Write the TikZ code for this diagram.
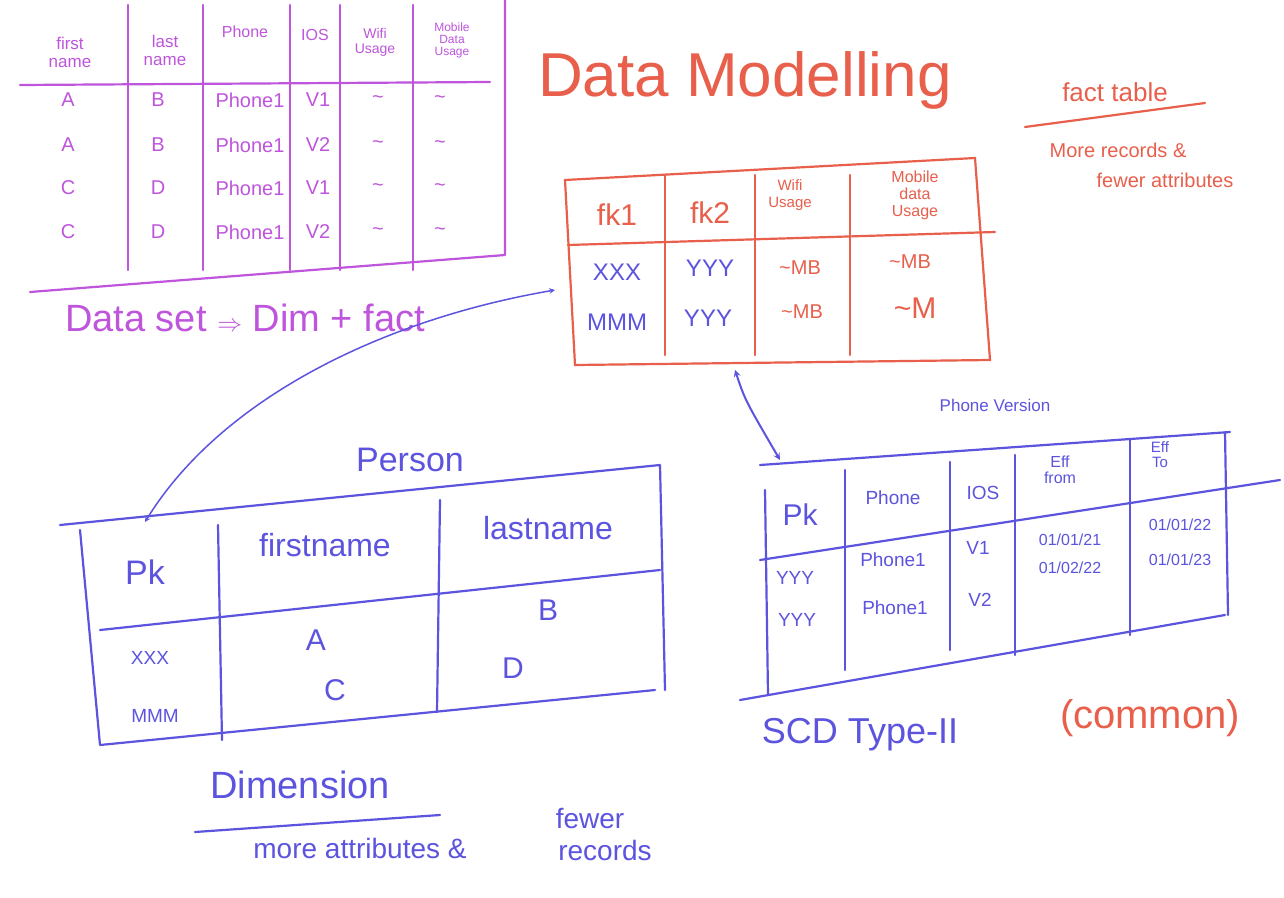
\documentclass[tikz,border=0pt]{standalone}
\usepackage{fontspec}
\setmainfont{Liberation Sans}
\definecolor{pur}{RGB}{190,85,220}
\definecolor{redo}{RGB}{232,95,75}
\definecolor{blu}{RGB}{92,84,222}
\begin{document}
\begin{tikzpicture}[x=1pt,y=-1pt,
  pl/.style={pur,line width=2.2pt,line cap=round},
  rl/.style={redo,line width=2.2pt,line cap=round},
  bl/.style={blu,line width=2.2pt,line cap=round},
  pt/.style={pur,font=\fontsize{20}{21}\selectfont,align=center},
  rt/.style={redo,font=\fontsize{20}{22}\selectfont,align=center},
  bt/.style={blu,font=\fontsize{24}{26}\selectfont,align=center},
  bts/.style={blu,font=\fontsize{19}{20}\selectfont,align=center}]
\useasboundingbox[fill=white] (0,0) rectangle (1284,897);
% purple table
\draw[pl] (505,0) -- (505,255) (30,292) -- (505,255) (20,85) -- (490,82);
\foreach \x in {128,203,290,340,413} \draw[pl] (\x,5) -- (\x,270);
\node[pt,font=\fontsize{17}{18}\selectfont] (h1) at (70,52) {first\\name};
\node[pt,font=\fontsize{17}{18}\selectfont] (h2) at (165,50) {last\\name};
\node[pt,font=\fontsize{16}{17}\selectfont] (h3) at (245,32) {Phone};
\node[pt,font=\fontsize{16}{17}\selectfont] (h4) at (315,35) {IOS};
\node[pt,font=\fontsize{14}{15}\selectfont] (h5) at (375,42) {Wifi\\Usage};
\node[pt,font=\fontsize{12}{12}\selectfont] (h6) at (452,40) {Mobile\\Data\\Usage};
\foreach \y/\a/\b/\v [count=\i] in {100/A/B/V1,145/A/B/V2,188/C/D/V1,232/C/D/V2}{
  \node[pt] (pa\i) at (68,\y) {\a};
  \node[pt] (pb\i) at (158,\y) {\b};
  \node[pt] (pc\i) at (250,\y) {Phone1};
  \node[pt] (pd\i) at (318,\y) {\v};
  \node[pt] (pe\i) at (378,\y) {\textasciitilde};
  \node[pt] (pf\i) at (440,\y) {\textasciitilde};
}
\node[pur,font=\fontsize{38}{40}\selectfont] (ds) at (245,318) {Data set $\Rightarrow$ Dim + fact};
% title
\node[redo,font=\fontsize{62}{64}\selectfont] (title) at (745,80) {Data Modelling};
\node[rt,font=\fontsize{26}{28}\selectfont] (ft) at (1115,92) {fact table};
\draw[rl] (1025,127) -- (1205,103);
\node[rt] (mr) at (1118,150) {More records \&};
\node[rt] (fa) at (1165,180) {fewer attributes};
% fact table
\draw[rl] (565,180) -- (975,158) -- (990,360) -- (575,365) -- cycle;
\draw[rl] (568,245) -- (995,232);
\foreach \x in {665,755,850} \draw[rl] (\x,175) -- (\x,355);
\node[rt,font=\fontsize{30}{32}\selectfont] (fk1) at (617,215) {fk1};
\node[rt,font=\fontsize{30}{32}\selectfont] (fk2) at (710,213) {fk2};
\node[rt,font=\fontsize{15}{17}\selectfont] (wu) at (790,195) {Wifi\\Usage};
\node[rt,font=\fontsize{16}{17}\selectfont] (mu) at (915,195) {Mobile\\data\\Usage};
\node[bt] (x1) at (617,272) {XXX};
\node[bt] (y1) at (710,268) {YYY};
\node[rt] (m1) at (800,268) {\textasciitilde MB};
\node[rt] (m2) at (910,262) {\textasciitilde MB};
\node[bt] (x2) at (617,322) {MMM};
\node[bt] (y2) at (708,318) {YYY};
\node[rt] (m3) at (802,312) {\textasciitilde MB};
\node[rt,font=\fontsize{30}{32}\selectfont] (m4) at (915,308) {\textasciitilde M};
% person table
\node[bt,font=\fontsize{34}{36}\selectfont] (pers) at (410,460) {Person};
\draw[bl] (60,525) -- (660,465) (660,465) -- (665,690) (100,745) -- (655,690) (80,530) -- (100,745) (100,630) -- (660,570);
\draw[bl] (218,525) -- (222,740) (440,500) -- (437,712);
\node[bt,font=\fontsize{34}{36}\selectfont] (pk) at (145,572) {Pk};
\node[bt,font=\fontsize{32}{34}\selectfont] (fn) at (325,545) {firstname};
\node[bt,font=\fontsize{32}{34}\selectfont] (ln) at (548,528) {lastname};
\node[bts] (px) at (150,658) {XXX};
\node[bts] (pm) at (155,716) {MMM};
\node[bt,font=\fontsize{30}{32}\selectfont] (pA) at (316,640) {A};
\node[bt,font=\fontsize{30}{32}\selectfont] (pC) at (335,690) {C};
\node[bt,font=\fontsize{30}{32}\selectfont] (pB) at (548,610) {B};
\node[bt,font=\fontsize{30}{32}\selectfont] (pD) at (513,668) {D};
\coordinate (ca) at (555,290);
\coordinate (cb) at (145,522);
\draw[blu,line width=1.5pt,<->,>=stealth] (ca) .. controls (380,320) and (220,400) .. (cb);
% phone version
\node[bts,font=\fontsize{17}{18}\selectfont] (pvt) at (995,405) {Phone Version};
\draw[bl] (760,465) -- (1230,432) (765,490) -- (768,695) (740,700) -- (1225,615) (1225,432) -- (1228,615) (760,560) -- (1280,480);
\foreach \x/\a/\b in {845/470/670,950/462/650,1015/455/655,1130/440/635} \draw[bl] (\x,\a) -- (\x,\b);
\node[bt,font=\fontsize{30}{32}\selectfont] (vpk) at (800,515) {Pk};
\node[bts] (vph) at (893,498) {Phone};
\node[bts] (vio) at (983,493) {IOS};
\node[bts,font=\fontsize{16}{16}\selectfont] (vef) at (1060,470) {Eff\\from};
\node[bts,font=\fontsize{15}{15}\selectfont] (vet) at (1160,455) {Eff\\To};
\node[bts] (vy1) at (795,578) {YYY};
\node[bts] (vy2) at (797,620) {YYY};
\node[bts] (vp1) at (893,560) {Phone1};
\node[bts] (vp2) at (895,608) {Phone1};
\node[bts] (vv1) at (978,548) {V1};
\node[bts] (vv2) at (980,600) {V2};
\node[bts,font=\fontsize{16}{17}\selectfont] (vd1) at (1070,540) {01/01/21};
\node[bts,font=\fontsize{16}{17}\selectfont] (vd2) at (1070,568) {01/02/22};
\node[bts,font=\fontsize{16}{17}\selectfont] (vd3) at (1180,525) {01/01/22};
\node[bts,font=\fontsize{16}{17}\selectfont] (vd4) at (1180,560) {01/01/23};
\coordinate (cc) at (735,370);
\coordinate (cd) at (780,460);
\draw[blu,line width=2pt,<->,>=stealth] (cc) .. controls (745,400) .. (cd);
\node[bt,font=\fontsize{36}{38}\selectfont] (scd) at (860,735) {SCD Type-II};
\node[redo,font=\fontsize{40}{42}\selectfont] (com) at (1150,718) {(common)};
% dimension
\node[bt,font=\fontsize{38}{40}\selectfont] (dim) at (300,785) {Dimension};
\draw[bl] (195,832) -- (440,815);
\node[bt,font=\fontsize{28}{30}\selectfont] (ma) at (360,848) {more attributes \&};
\node[bt,font=\fontsize{28}{30}\selectfont] (fw) at (590,818) {fewer};
\node[bt,font=\fontsize{28}{30}\selectfont] (rc) at (605,850) {records};
\end{tikzpicture}
\end{document}
